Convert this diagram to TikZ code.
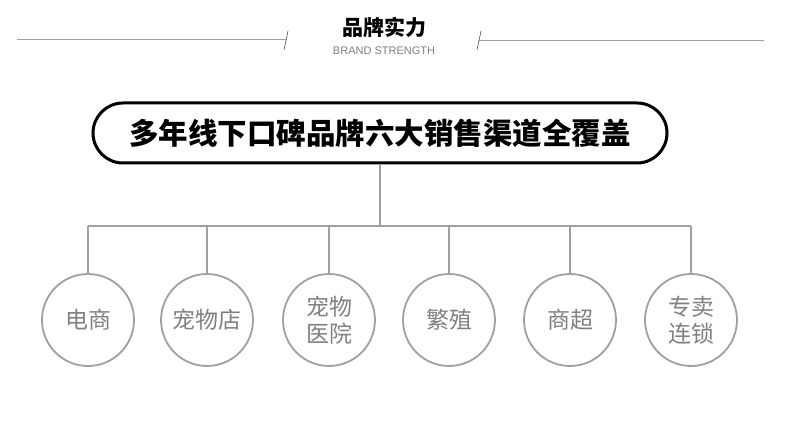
\documentclass[tikz,border=0pt]{standalone}
\usepackage{fontspec}
\newfontfamily\cjk{Noto Sans CJK SC}
\setsansfont{Liberation Sans}
\usetikzlibrary{positioning}
\definecolor{linegray}{HTML}{A0A0A0}
\definecolor{textgray}{HTML}{808080}
\tikzstyle{channel} = [circle, minimum size=92pt, inner sep=0pt, draw=linegray, line width=1.8pt, align=center, text=textgray, font=\cjk\fontsize{23}{27}\selectfont]
\tikzstyle{branch} = [draw=linegray, line width=1.2pt]

\begin{document}
\begin{tikzpicture}[x=1pt,y=-1pt]
        \useasboundingbox (0,0) rectangle (790,425);

        % header
        \node (title) at (384,27) {\cjk\bfseries\fontsize{21}{24}\selectfont 品牌实力};
        \node (subtitle) at (384,51) {\sffamily\fontsize{11}{12}\selectfont\color{textgray}BRAND STRENGTH};
        \coordinate (ll) at (17,40);
        \coordinate (lr) at (286,40);
        \coordinate (rl) at (479,41);
        \coordinate (rr) at (764,41);
        \draw [linegray, line width=1pt] (ll) -- (lr);
        \draw [linegray, line width=1pt] (rl) -- (rr);
        \draw [black!70, line width=0.6pt] (288,31) -- (284,50);
        \draw [black!70, line width=0.6pt] (481,31) -- (477,50);

        % main slogan
        \node (slogan) at (380,133) [rectangle, rounded corners=30pt, draw=black, line width=3pt, minimum width=574pt, minimum height=60pt, font=\cjk\bfseries\fontsize{29.5}{32}\selectfont] {多年线下口碑品牌六大销售渠道全覆盖};

        % channels
        \node (c1) at (88,320) [channel] {电商};
        \node (c2) at (207,320) [channel] {宠物店};
        \node (c3) at (329,320) [channel] {宠物\\医院};
        \node (c4) at (449,320) [channel] {繁殖};
        \node (c5) at (570,320) [channel] {商超};
        \node (c6) at (691,320) [channel] {专卖\\连锁};

        \coordinate (hub) at (380,226);
        \draw [branch] (slogan.south) -- (hub);
        \draw [branch] (c1.north |- hub) -- (c6.north |- hub);
        \foreach \c in {c1,c2,c3,c4,c5,c6}
                \draw [branch] (\c.north |- hub) -- (\c.north);

\end{tikzpicture}
\end{document}
